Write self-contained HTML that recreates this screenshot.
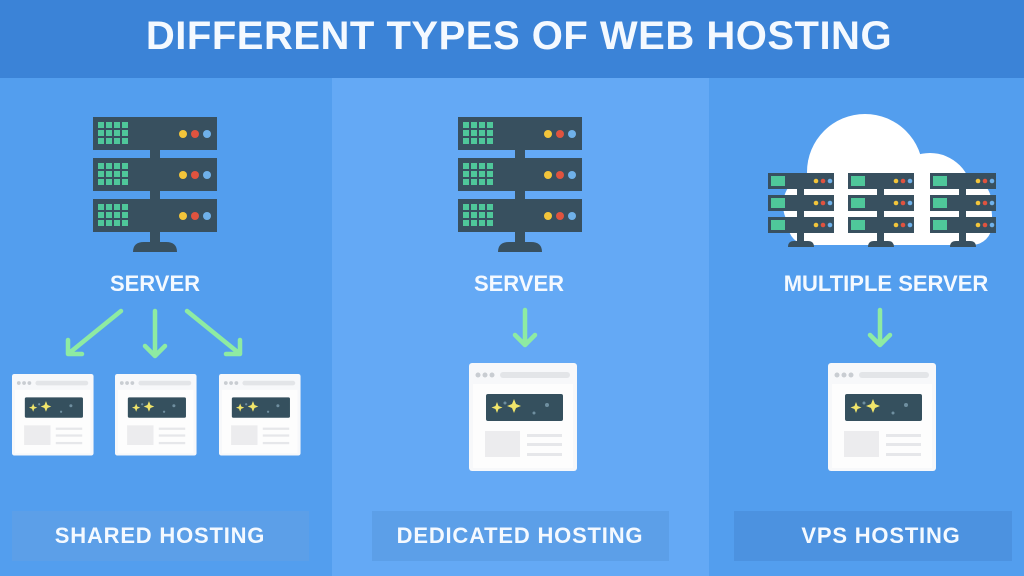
<!DOCTYPE html>
<html><head><meta charset="utf-8"><style>
html,body{margin:0;padding:0;width:1024px;height:576px;overflow:hidden;background:#539eee}
svg{display:block}
text{font-family:"Liberation Sans",sans-serif;font-weight:bold;fill:#f4f9ff}
</style></head><body>
<svg width="1024" height="576" viewBox="0 0 1024 576" xmlns="http://www.w3.org/2000/svg">
<defs>
<g id="unit">
  <rect x="0" y="0" width="124" height="33" fill="#38505f"/>
  <g fill="#4fc79a">
    <rect x="5" y="5" width="6" height="6"/><rect x="13" y="5" width="6" height="6"/><rect x="21" y="5" width="6" height="6"/><rect x="29" y="5" width="6" height="6"/>
    <rect x="5" y="13" width="6" height="6"/><rect x="13" y="13" width="6" height="6"/><rect x="21" y="13" width="6" height="6"/><rect x="29" y="13" width="6" height="6"/>
    <rect x="5" y="21" width="6" height="6"/><rect x="13" y="21" width="6" height="6"/><rect x="21" y="21" width="6" height="6"/><rect x="29" y="21" width="6" height="6"/>
  </g>
  <circle cx="90" cy="17" r="4" fill="#f3c53a"/>
  <circle cx="102" cy="17" r="4" fill="#e0533f"/>
  <circle cx="114" cy="17" r="4" fill="#6fb1ea"/>
</g>
<g id="server">
  <rect x="57" y="30" width="10" height="98" fill="#38505f"/>
  <use href="#unit" x="0" y="0"/>
  <use href="#unit" x="0" y="41"/>
  <use href="#unit" x="0" y="82"/>
  <path d="M40 135 Q40 125 51 125 L73 125 Q84 125 84 135Z" fill="#38505f"/>
</g>
<g id="win">
  <rect x="0" y="0" width="108" height="108" rx="3" fill="#f7f8fa"/>
  <circle cx="9" cy="12" r="2.5" fill="#c9cdd2"/><circle cx="16" cy="12" r="2.5" fill="#c9cdd2"/><circle cx="23" cy="12" r="2.5" fill="#c9cdd2"/>
  <rect x="31" y="9" width="70" height="6" rx="3" fill="#e3e5e8"/>
  <rect x="4" y="21" width="100" height="84" fill="#fdfdfd"/>
  <rect x="17" y="31" width="77" height="27" rx="2" fill="#35505e"/>
  <path d="M28 39 l1.5 4 4 1.5 -4 1.5 -1.5 4 -1.5 -4 -4 -1.5 4 -1.5z" fill="#f1e56a"/>
  <path d="M45 36 l2 5 5 2 -5 2 -2 5 -2 -5 -5 -2 5 -2z" fill="#f1e56a"/>
  <circle cx="36" cy="40" r="1.5" fill="#6f8fa0"/><circle cx="65" cy="50" r="1.5" fill="#6f8fa0"/><circle cx="78" cy="42" r="2" fill="#6f8fa0"/>
  <rect x="16" y="68" width="35" height="26" fill="#ececee"/>
  <rect x="58" y="71" width="35" height="3" fill="#e6e7ea"/>
  <rect x="58" y="80" width="35" height="3" fill="#e6e7ea"/>
  <rect x="58" y="90" width="35" height="3" fill="#e6e7ea"/>
</g>
<g id="mini">
  <rect x="29" y="10" width="7" height="58" fill="#38505f"/>
  <g id="mu">
    <rect x="0" y="0" width="66" height="16" fill="#38505f"/>
    <rect x="3" y="3" width="14" height="10" fill="#4fc79a"/>
    <circle cx="48" cy="8" r="2.3" fill="#f3c53a"/><circle cx="55" cy="8" r="2.3" fill="#e0533f"/><circle cx="62" cy="8" r="2.3" fill="#6fb1ea"/>
  </g>
  <use href="#mu" y="22"/><use href="#mu" y="44"/>
  <path d="M20 74 Q20 68 26 68 L40 68 Q46 68 46 74Z" fill="#38505f"/>
</g>
</defs>
<rect x="0" y="0" width="1024" height="576" fill="#539eee"/>
<rect x="332" y="78" width="377" height="498" fill="#64a9f5"/>
<rect x="0" y="0" width="1024" height="78" fill="#3b83d7"/>
<text x="519" y="49" font-size="40" letter-spacing="0.5" text-anchor="middle">DIFFERENT TYPES OF WEB HOSTING</text>

<use href="#server" x="93" y="117"/>
<use href="#server" x="458" y="117"/>

<g fill="#ffffff">
  <circle cx="865" cy="172" r="58"/>
  <circle cx="930" cy="195" r="42"/>
  <circle cx="960" cy="205" r="32"/>
  <circle cx="815" cy="205" r="32"/>
  <rect x="788" y="195" width="204" height="50" rx="20"/>
</g>
<use href="#mini" x="768" y="173"/>
<use href="#mini" x="848" y="173"/>
<use href="#mini" x="930" y="173"/>

<text x="155" y="291" font-size="22" text-anchor="middle">SERVER</text>
<text x="519" y="291" font-size="22" text-anchor="middle">SERVER</text>
<text x="886" y="291" font-size="22" text-anchor="middle">MULTIPLE SERVER</text>

<g stroke="#8eeba2" stroke-width="4.5" fill="none" stroke-linecap="round" stroke-linejoin="round">
  <path d="M121 311 L68 354 M68 340 L68 354 L82 354"/>
  <path d="M155 311 L155 356 M145 346 L155 356 L165 346"/>
  <path d="M187 311 L240 354 M240 340 L240 354 L226 354"/>
  <path d="M525 310 L525 345 M515 335 L525 345 L535 335"/>
  <path d="M880 310 L880 345 M870 335 L880 345 L890 335"/>
</g>

<use href="#win" transform="translate(12,374) scale(0.755)"/>
<use href="#win" transform="translate(115,374) scale(0.755)"/>
<use href="#win" transform="translate(219,374) scale(0.755)"/>
<use href="#win" x="469" y="363"/>
<use href="#win" x="828" y="363"/>

<rect x="12" y="511" width="297" height="50" fill="#5c9fe8"/>
<rect x="372" y="511" width="297" height="50" fill="#5c9fe8"/>
<rect x="734" y="511" width="278" height="50" fill="#4c92e0"/>
<text x="160" y="543" font-size="22" letter-spacing="0.8" text-anchor="middle">SHARED HOSTING</text>
<text x="520" y="543" font-size="22" letter-spacing="0.8" text-anchor="middle">DEDICATED HOSTING</text>
<text x="881" y="543" font-size="22" letter-spacing="0.8" text-anchor="middle">VPS HOSTING</text>
</svg>
</body></html>
